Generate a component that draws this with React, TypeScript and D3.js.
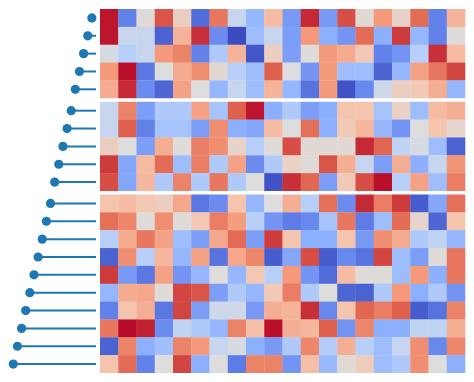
import React from "react";
import * as d3 from "d3";

const columns = d3.range(1, 21).map((i) => `C${i}`);
const rowNames = d3.range(1, 21).map((i) => `R${i}`);
const groupSizes = [5, 5, 10];
const lollipopValues = d3.range(1, 21);

const group1 = [
  [0.95, -0.75, 0.03, 0.78, 0.15, -0.85, 0.65, -0.15, -0.45, 0.3, -0.62, 0.9, -0.62, 0.8, 0.05, 0.5, 0.1, 0.7, -0.75, 0.35],
  [0.95, -0.15, -0.15, -0.9, 0.35, 0.88, -0.7, -1.0, -0.4, -0.15, -0.6, 0.5, -0.5, -0.65, 0.7, -0.5, 0.85, -0.45, -0.75, 0.02],
  [-0.05, -0.25, -0.15, 0.5, 0.6, -0.75, -0.3, 0.35, -0.95, 0.15, -0.6, 0.02, 0.5, 0.4, 0.2, -0.75, -0.65, -0.25, 0.88, 0.3],
  [0.5, 0.97, -0.8, 0.0, 0.4, 0.55, 0.05, -0.25, -0.4, 0.75, 0.0, -0.65, 0.5, -0.4, -0.4, -0.9, -0.45, 0.45, 0.65, 0.82],
  [0.4, 0.9, -0.7, -0.88, 0.45, 0.0, -0.45, -0.15, -0.4, 0.35, -0.45, -0.82, 0.5, -0.97, -0.72, -0.1, 0.15, 0.2, 0.38, -0.45],
];
const group2 = [
  [-0.15, 0.6, -0.6, -0.3, -0.3, 0.45, -0.35, 0.75, 0.95, -0.5, -0.3, -0.6, -0.5, 0.25, 0.25, -0.35, 0.12, -0.4, 0.3, 0.38],
  [-0.15, 0.75, -0.75, -0.35, -0.35, -0.6, 0.55, -0.5, -0.55, 0.3, 0.0, 0.68, -0.5, 0.2, 0.32, -0.45, -0.65, 0.0, 0.25, 0.08],
  [0.15, 0.0, -0.6, 0.38, 0.02, 0.62, 0.55, 0.1, -0.25, 0.02, 0.8, 0.05, 0.05, 0.05, 0.9, 0.72, -0.2, -0.05, -0.4, -0.9],
  [0.85, -0.55, 0.3, 0.7, -0.4, 0.62, -0.3, 0.45, -0.7, -0.3, 0.12, 0.03, 0.78, 0.38, -0.15, -0.6, 0.38, -0.5, -0.15, 0.52],
  [0.8, -0.55, 0.33, -0.3, 0.6, -0.3, 0.65, -0.3, 0.0, -0.97, 0.88, 0.72, -0.6, 0.2, 0.8, 0.97, -0.25, 0.45, -0.4, 0.62],
];
const group3 = [
  [0.25, 0.3, 0.22, 0.15, 0.42, -0.8, -0.7, 0.25, -0.45, 0.0, 0.38, -0.25, 0.68, -0.7, 0.9, 0.62, 0.85, -0.92, -0.55, 0.68],
  [0.68, 0.58, 0.02, 0.55, 0.02, 0.22, 0.62, 0.48, -0.25, -0.65, -0.78, -0.72, -0.35, 0.65, -0.78, -0.4, 0.7, 0.08, -0.88, 0.25],
  [-0.25, 0.4, 0.65, 0.45, -0.4, -0.6, 0.42, 0.7, -0.6, 0.85, 0.25, -0.5, -0.5, 0.25, -0.62, 0.55, 0.4, -0.3, -0.2, -0.45],
  [-0.9, 0.55, -0.25, 0.32, -0.45, 0.45, -0.82, 0.42, 0.58, -0.92, -0.55, 0.8, -0.92, -0.72, -0.82, 0.82, -0.4, -0.6, 0.02, 0.65],
  [0.85, -0.62, -0.8, 0.45, -0.65, -0.45, 0.0, -0.45, 0.22, -0.25, 0.5, -0.65, -0.85, 0.3, 0.02, 0.02, -0.4, 0.5, -0.5, 0.65],
  [-0.45, 0.4, 0.42, 0.02, 0.82, 0.78, -0.6, -0.3, -0.45, 0.2, 0.62, -0.3, 0.0, -0.88, -0.9, -0.3, 0.5, -0.5, -0.3, -0.65],
  [-0.75, 0.25, 0.38, -0.8, 0.82, -0.6, -0.1, -0.1, -0.62, 0.38, 0.35, 0.88, -0.72, 0.25, 0.72, 0.62, 0.75, -0.92, -0.82, 0.6],
  [0.65, 0.98, 0.92, -0.7, -0.2, -0.3, -0.45, 0.6, 0.28, 0.97, 0.38, 0.32, 0.75, -0.65, 0.58, -0.5, -0.5, -0.2, -0.2, 0.38],
  [-0.9, 0.6, -0.5, -0.38, 0.6, 0.5, -0.15, -0.05, -0.5, -0.62, -0.3, 0.58, -0.28, 0.38, -0.25, -0.4, -0.15, 0.55, -0.72, 0.58],
  [0.25, 0.7, -0.75, 0.0, 0.82, -0.5, 0.0, -0.78, 0.6, 0.6, -0.65, 0.28, -0.42, 0.03, 0.18, -0.4, -0.3, 0.55, 0.0, -0.5],
];

const coolwarmStops = [
  "rgb(59,76,192)",
  "rgb(98,130,234)",
  "rgb(141,176,254)",
  "rgb(184,208,249)",
  "rgb(221,221,221)",
  "rgb(245,196,173)",
  "rgb(244,154,123)",
  "rgb(222,96,77)",
  "rgb(180,4,38)",
];

export default function App() {
  const W = 474;
  const H = 382;
  const heatLeft = 100;
  const heatRight = 465;
  const top = 9;
  const rowH = 17.85;
  const gap = 3.5;

  const matrix = [...group1, ...group2, ...group3];
  const interp = d3.piecewise(d3.interpolateRgb, coolwarmStops);
  const color = d3.scaleSequential((t: number) => interp(t)).domain([-1, 1]);

  const x = d3.scaleBand<string>().domain(columns).range([heatLeft, heatRight]).padding(0);

  // row y positions with group gaps
  const groupIndex: number[] = [];
  groupSizes.forEach((n, g) => {
    for (let i = 0; i < n; i++) groupIndex.push(g);
  });
  const rowY = rowNames.map((_, i) => top + i * rowH + groupIndex[i] * gap);

  const lx = d3.scaleLinear().domain([0, 20]).range([96, 13.3]);

  return (
    <svg
      width={W}
      height={H}
      style={{ position: "absolute", left: 0, top: 0, background: "#fff" }}
    >
      <g>
        {matrix.map((row, ri) =>
          row.map((v, ci) => (
            <rect
              key={`${ri}-${ci}`}
              x={x(columns[ci])}
              y={rowY[ri]}
              width={x.bandwidth() + 0.3}
              height={rowH + (ri < matrix.length - 1 && groupIndex[ri + 1] === groupIndex[ri] ? 0.3 : 0)}
              fill={color(v)}
            />
          ))
        )}
      </g>
      <g>
        {lollipopValues.map((v, i) => {
          const cy = rowY[i] + rowH / 2;
          return (
            <g key={i}>
              <line x1={lx(0)} x2={lx(v)} y1={cy} y2={cy} stroke="#1f77b4" strokeWidth={2} />
              <circle cx={lx(v)} cy={cy} r={4.6} fill="#1f77b4" />
            </g>
          );
        })}
      </g>
    </svg>
  );
}
